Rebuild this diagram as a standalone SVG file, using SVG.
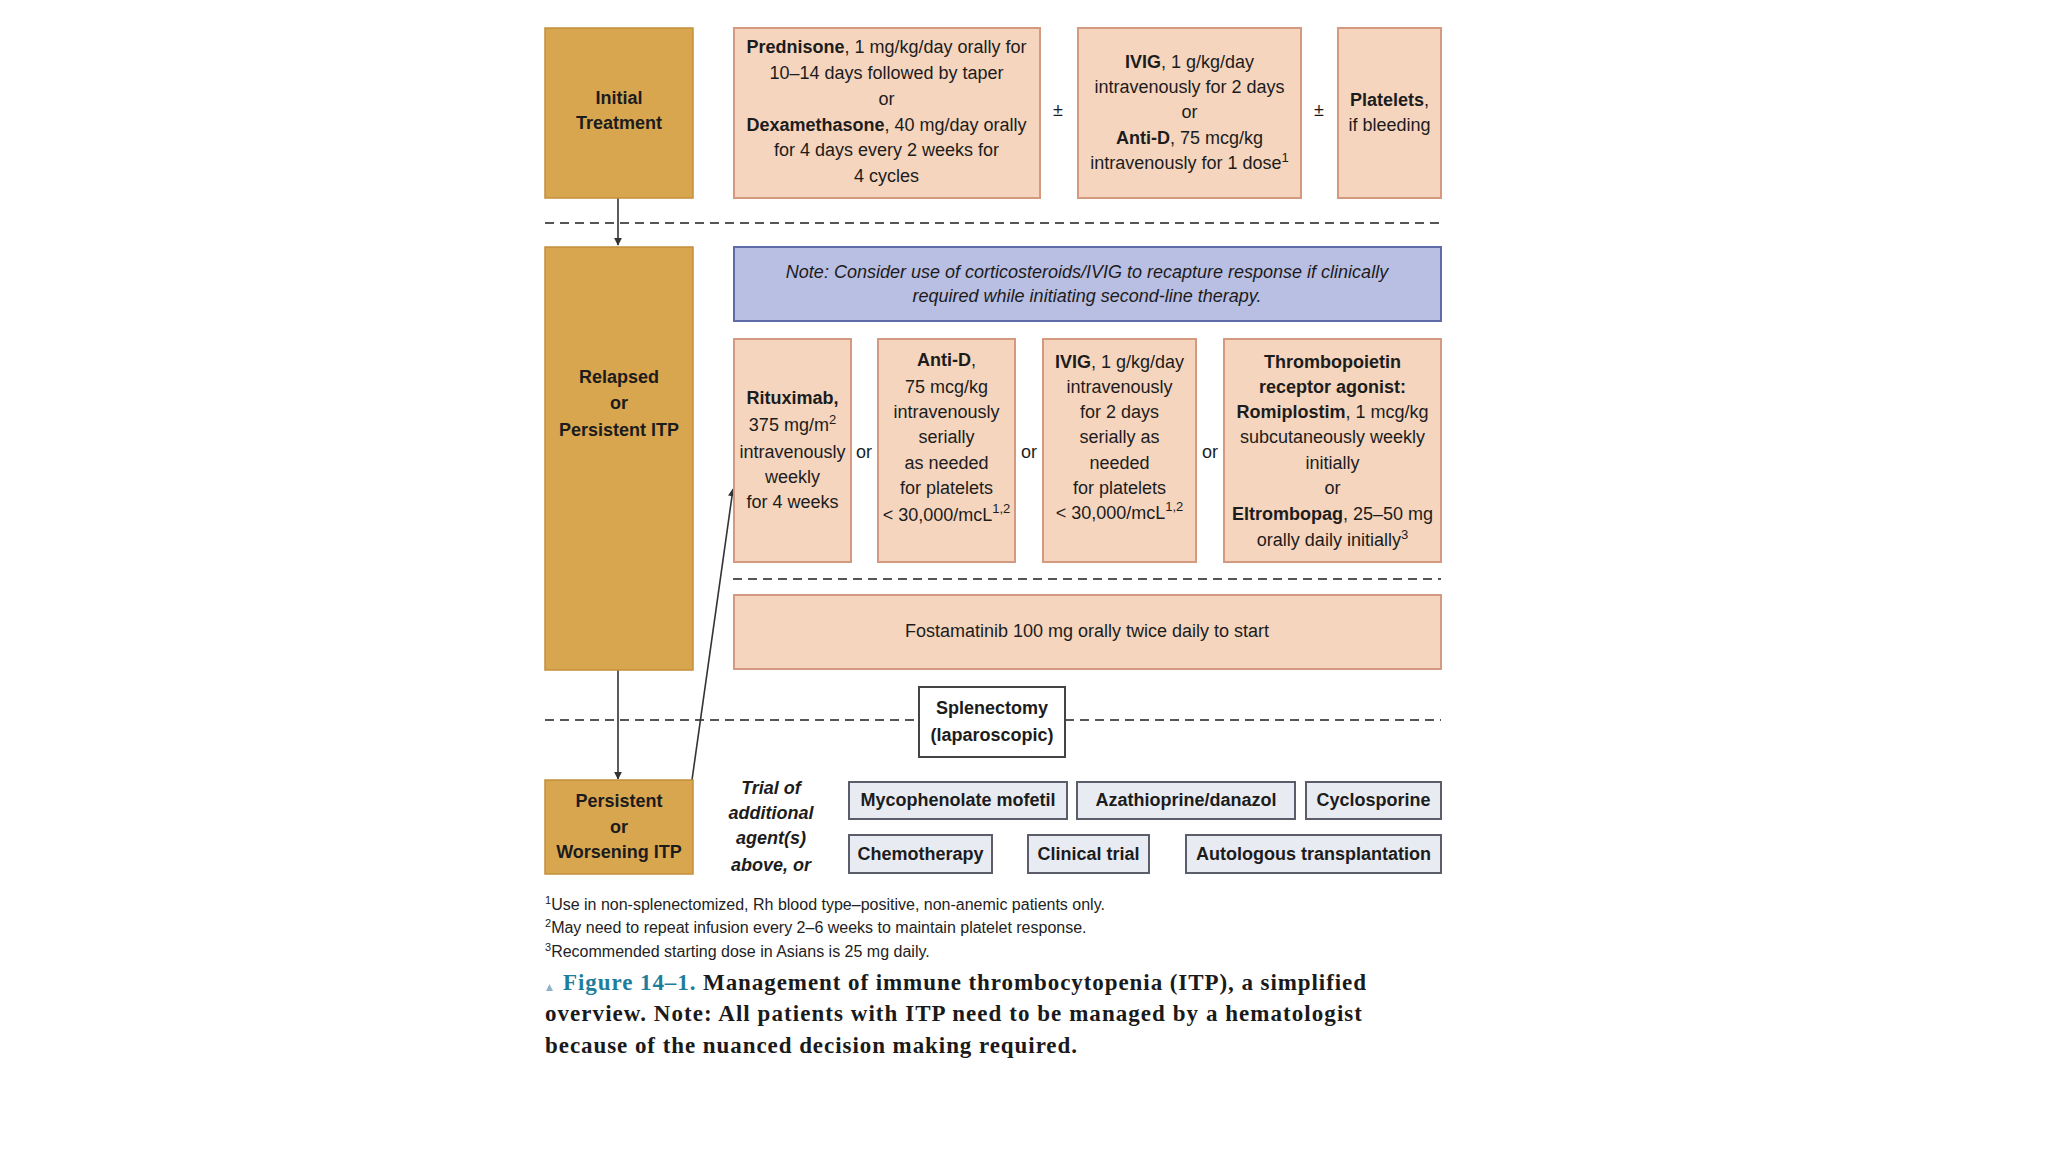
<svg xmlns="http://www.w3.org/2000/svg" width="2048" height="1152" viewBox="0 0 2048 1152">
<defs>
<style>
.gold{fill:#d9a650;stroke:#c48f3c;stroke-width:1.5}
.peach{fill:#f5d5be;stroke:#d39a80;stroke-width:2}
.note{fill:#b9bee3;stroke:#5f6aa8;stroke-width:2}
.gray{fill:#e9ebf2;stroke:#5b5e6a;stroke-width:2}
.white{fill:#ffffff;stroke:#444;stroke-width:2}
text{font-family:"Liberation Sans",Arial,sans-serif;font-size:18px;fill:#1c1c1c;text-anchor:middle}
.b{font-weight:bold}
.i{font-style:italic}
.sup{font-size:13px}
.dash{stroke:#555;stroke-width:2.2;stroke-dasharray:9 6;fill:none}
.conn{stroke:#333;stroke-width:1.6;fill:none}
.foot{font-size:16px;text-anchor:start;fill:#222}
.cap{font-family:"Liberation Serif","Times New Roman",serif;font-size:23px;font-weight:bold;text-anchor:start;fill:#1a1a1a}
</style>
<marker id="arr" viewBox="0 0 10 10" refX="9" refY="5" markerWidth="8" markerHeight="8" orient="auto" markerUnits="userSpaceOnUse">
<path d="M0,0 L10,5 L0,10 z" fill="#333"/>
</marker>
</defs>
<rect width="2048" height="1152" fill="#ffffff"/>

<g id="connectors">
<line class="dash" x1="545" y1="223" x2="1441" y2="223"/>
<line class="dash" x1="733" y1="579" x2="1441" y2="579"/>
<line class="dash" x1="545" y1="720" x2="919" y2="720"/>
<line class="dash" x1="1065" y1="720" x2="1441" y2="720"/>
<line class="conn" x1="618" y1="198" x2="618" y2="245" marker-end="url(#arr)"/>
<line class="conn" x1="618" y1="670" x2="618" y2="779" marker-end="url(#arr)"/>
<line class="conn" x1="692" y1="780" x2="733" y2="489" marker-end="url(#arr)"/>
</g>

<g id="initial-treatment">
<rect class="gold" x="545" y="28" width="148" height="170"/>
<text class="b" x="619" y="104">Initial</text>
<text class="b" x="619" y="129">Treatment</text>
</g>

<g id="steroids">
<rect class="peach" x="734" y="28" width="306" height="170"/>
<text x="886.5" y="53"><tspan class="b">Prednisone</tspan>, 1 mg/kg/day orally for</text>
<text x="886.5" y="79">10–14 days followed by taper</text>
<text x="886.5" y="105">or</text>
<text x="886.5" y="131"><tspan class="b">Dexamethasone</tspan>, 40 mg/day orally</text>
<text x="886.5" y="156">for 4 days every 2 weeks for</text>
<text x="886.5" y="182">4 cycles</text>
</g>
<text x="1058" y="116" font-size="15">±</text>

<g id="ivig-antid">
<rect class="peach" x="1078" y="28" width="223" height="170"/>
<text x="1189.5" y="68"><tspan class="b">IVIG</tspan>, 1 g/kg/day</text>
<text x="1189.5" y="93">intravenously for 2 days</text>
<text x="1189.5" y="118">or</text>
<text x="1189.5" y="144"><tspan class="b">Anti-D</tspan>, 75 mcg/kg</text>
<text x="1189.5" y="169">intravenously for 1 dose<tspan class="sup" dy="-7">1</tspan></text>
</g>
<text x="1319" y="116" font-size="15">±</text>

<g id="platelets">
<rect class="peach" x="1338" y="28" width="103" height="170"/>
<text x="1389.5" y="106"><tspan class="b">Platelets</tspan>,</text>
<text x="1389.5" y="131">if bleeding</text>
</g>

<g id="relapsed">
<rect class="gold" x="545" y="247" width="148" height="423"/>
<text class="b" x="619" y="383">Relapsed</text>
<text class="b" x="619" y="409">or</text>
<text class="b" x="619" y="436">Persistent ITP</text>
</g>

<g id="note">
<rect class="note" x="734" y="247" width="707" height="74"/>
<text class="i" x="1087" y="278">Note: Consider use of corticosteroids/IVIG to recapture response if clinically</text>
<text class="i" x="1087" y="302">required while initiating second-line therapy.</text>
</g>

<g id="rituximab">
<rect class="peach" x="734" y="339" width="117" height="223"/>
<text class="b" x="792.5" y="404">Rituximab,</text>
<text x="792.5" y="431">375 mg/m<tspan class="sup" font-size="14" dy="-7">2</tspan></text>
<text x="792.5" y="458">intravenously</text>
<text x="792.5" y="483">weekly</text>
<text x="792.5" y="508">for 4 weeks</text>
</g>
<text x="864" y="458">or</text>

<g id="anti-d">
<rect class="peach" x="878" y="339" width="137" height="223"/>
<text x="946.5" y="366"><tspan class="b">Anti-D</tspan>,</text>
<text x="946.5" y="393">75 mcg/kg</text>
<text x="946.5" y="418">intravenously</text>
<text x="946.5" y="443">serially</text>
<text x="946.5" y="469">as needed</text>
<text x="946.5" y="494">for platelets</text>
<text x="946.5" y="521">&lt; 30,000/mcL<tspan class="sup" dy="-8">1,2</tspan></text>
</g>
<text x="1029" y="458">or</text>

<g id="ivig">
<rect class="peach" x="1043" y="339" width="153" height="223"/>
<text x="1119.5" y="368"><tspan class="b">IVIG</tspan>, 1 g/kg/day</text>
<text x="1119.5" y="393">intravenously</text>
<text x="1119.5" y="418">for 2 days</text>
<text x="1119.5" y="443">serially as</text>
<text x="1119.5" y="469">needed</text>
<text x="1119.5" y="494">for platelets</text>
<text x="1119.5" y="519">&lt; 30,000/mcL<tspan class="sup" dy="-8">1,2</tspan></text>
</g>
<text x="1210" y="458">or</text>

<g id="tpo">
<rect class="peach" x="1224" y="339" width="217" height="223"/>
<text class="b" x="1332.5" y="368">Thrombopoietin</text>
<text class="b" x="1332.5" y="393">receptor agonist:</text>
<text x="1332.5" y="418"><tspan class="b">Romiplostim</tspan>, 1 mcg/kg</text>
<text x="1332.5" y="443">subcutaneously weekly</text>
<text x="1332.5" y="469">initially</text>
<text x="1332.5" y="494">or</text>
<text x="1332.5" y="520"><tspan class="b">Eltrombopag</tspan>, 25–50 mg</text>
<text x="1332.5" y="546">orally daily initially<tspan class="sup" dy="-7">3</tspan></text>
</g>

<g id="fostamatinib">
<rect class="peach" x="734" y="595" width="707" height="74"/>
<text x="1087" y="637">Fostamatinib 100 mg orally twice daily to start</text>
</g>

<g id="splenectomy">
<rect class="white" x="919" y="687" width="146" height="70"/>
<text class="b" x="992" y="714">Splenectomy</text>
<text class="b" x="992" y="741">(laparoscopic)</text>
</g>

<g id="persistent-worsening">
<rect class="gold" x="545" y="780" width="148" height="94"/>
<text class="b" x="619" y="807">Persistent</text>
<text class="b" x="619" y="833">or</text>
<text class="b" x="619" y="858">Worsening ITP</text>
</g>

<g id="trial">
<text class="b i" x="771" y="794">Trial of</text>
<text class="b i" x="771" y="819">additional</text>
<text class="b i" x="771" y="844">agent(s)</text>
<text class="b i" x="771" y="871">above, or</text>
</g>

<g id="mycophenolate">
<rect class="gray" x="849" y="782" width="218" height="37"/>
<text class="b" x="958" y="806">Mycophenolate mofetil</text>
</g>
<g id="azathioprine">
<rect class="gray" x="1077" y="782" width="218" height="37"/>
<text class="b" x="1186" y="806">Azathioprine/danazol</text>
</g>
<g id="cyclosporine">
<rect class="gray" x="1306" y="782" width="135" height="37"/>
<text class="b" x="1373.5" y="806">Cyclosporine</text>
</g>
<g id="chemotherapy">
<rect class="gray" x="849" y="835" width="143" height="38"/>
<text class="b" x="920.5" y="860">Chemotherapy</text>
</g>
<g id="clinical-trial">
<rect class="gray" x="1028" y="835" width="121" height="38"/>
<text class="b" x="1088.5" y="860">Clinical trial</text>
</g>
<g id="autologous">
<rect class="gray" x="1186" y="835" width="255" height="38"/>
<text class="b" x="1313.5" y="860">Autologous transplantation</text>
</g>

<g id="footnotes">
<text class="foot" x="545" y="910"><tspan font-size="11" dy="-6">1</tspan><tspan dy="6">Use in non-splenectomized, Rh blood type–positive, non-anemic patients only.</tspan></text>
<text class="foot" x="545" y="933"><tspan font-size="11" dy="-6">2</tspan><tspan dy="6">May need to repeat infusion every 2–6 weeks to maintain platelet response.</tspan></text>
<text class="foot" x="545" y="957"><tspan font-size="11" dy="-6">3</tspan><tspan dy="6">Recommended starting dose in Asians is 25 mg daily.</tspan></text>
</g>

<g id="caption">
<polygon points="546,991 553,991 549.5,984" fill="#8fb3c9"/>
<text class="cap" x="563" y="990" textLength="803" lengthAdjust="spacing"><tspan fill="#1f7d9c">Figure 14–1.</tspan> Management of immune thrombocytopenia (ITP), a simplified</text>
<text class="cap" x="545" y="1021" textLength="817" lengthAdjust="spacing">overview. Note: All patients with ITP need to be managed by a hematologist</text>
<text class="cap" x="545" y="1053" textLength="532" lengthAdjust="spacing">because of the nuanced decision making required.</text>
</g>
</svg>
